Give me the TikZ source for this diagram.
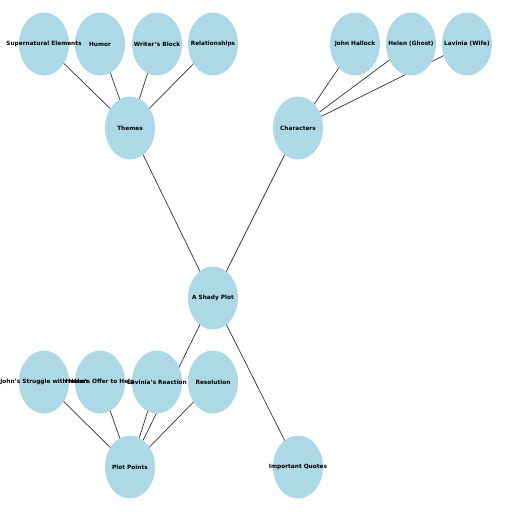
\documentclass[tikz,border=0pt]{standalone}
\usepackage{fontspec}
\setmainfont{DejaVu Sans}
\usetikzlibrary{shapes.geometric,backgrounds}
\definecolor{LightBlue}{HTML}{ADD8E6}
\definecolor{EdgeGray}{HTML}{333333}

\begin{document}
\begin{tikzpicture}[x=1pt,y=-1pt,topic/.style={ellipse,fill=LightBlue,minimum width=50pt,minimum height=63pt,inner sep=0pt},tag/.style={inner sep=0pt,font=\fontsize{5.8}{6}\selectfont\bfseries},edge/.style={draw=EdgeGray,line width=0.7pt}]
\useasboundingbox (0,0) rectangle (512,512);
% ellipses
\node[topic](plot) at (213,298){};
\node[topic](themes) at (130,128){};
\node[topic](chars) at (298,128){};
\node[topic](points) at (130,467){};
\node[topic](quotes) at (298,467){};
\node[topic](super) at (44,44){};
\node[topic](humor) at (100,44){};
\node[topic](block) at (157,44){};
\node[topic](rel) at (213,44){};
\node[topic](john) at (355,44){};
\node[topic](helen) at (411,44){};
\node[topic](lavinia) at (467,44){};
\node[topic](struggle) at (44,382){};
\node[topic](offer) at (100,382){};
\node[topic](reaction) at (157,382){};
\node[topic](resol) at (213,382){};
% links behind the ellipses
\begin{scope}[on background layer]
\foreach \p/\q in {plot/themes,plot/chars,plot/points,plot/quotes,themes/super,themes/humor,themes/block,themes/rel,chars/john,chars/helen,chars/lavinia,points/struggle,points/offer,points/reaction,points/resol}{\draw[edge](\p.center)--(\q.center);}
\end{scope}
% labels on top
\foreach \n/\t in {plot/A Shady Plot,themes/Themes,chars/Characters,points/Plot Points,quotes/Important Quotes,super/Supernatural Elements,humor/Humor,block/Writer's Block,rel/Relationships,john/John Hallock,helen/Helen (Ghost),lavinia/Lavinia (Wife),struggle/John's Struggle with Helen,offer/Helen's Offer to Help,reaction/Lavinia's Reaction,resol/Resolution}{\node[tag] at (\n){\t};}
\end{tikzpicture}
\end{document}
